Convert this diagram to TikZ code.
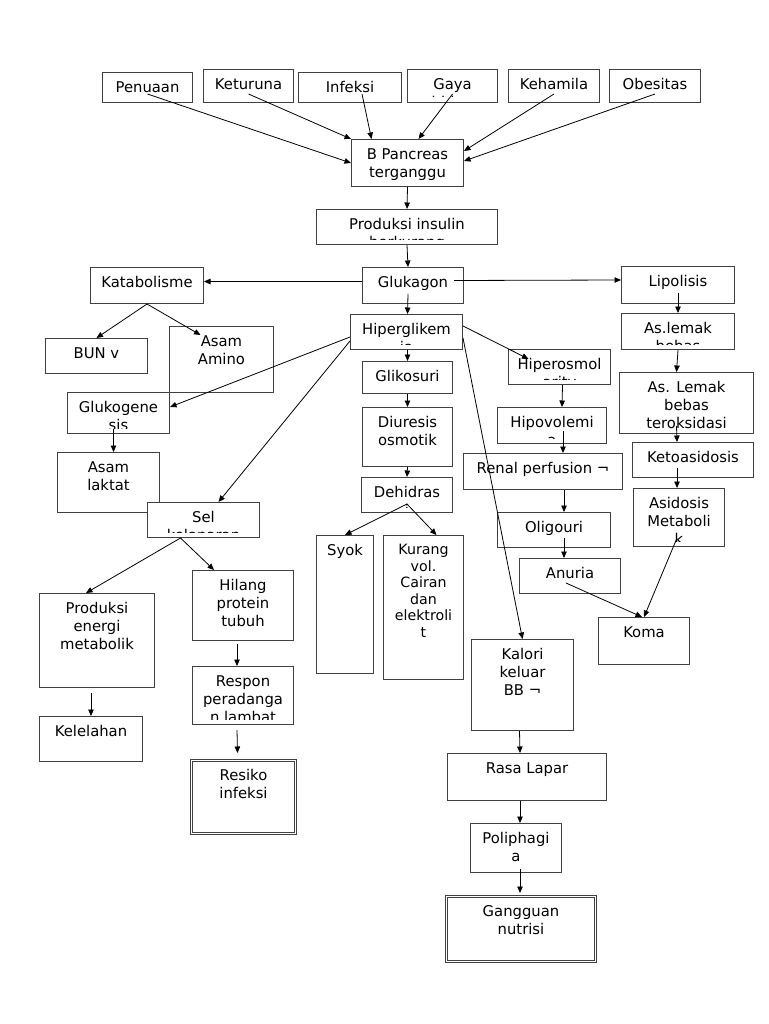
\documentclass[tikz,border=0pt]{standalone}
\usepackage{fontspec}
\setmainfont{DejaVu Sans}
\usetikzlibrary{arrows.meta}

\tikzset{
	box/.style={rectangle, draw=black!75, fill=white, line width=1pt, inner sep=0pt, anchor=north west},
	dbox/.style={box, double=white, double distance=1.6pt, line width=1pt},
	boxtext/.style={anchor=north, align=center, inner sep=0pt, minimum width=0pt, minimum height=0pt, draw=none, fill=none},
	txt/.style={path picture={
		\clip ([yshift=5.5pt]path picture bounding box.south west) rectangle (path picture bounding box.north east);
		\node[boxtext] at ([yshift=-8.5pt]path picture bounding box.north) {#1};}},
	conn/.style={->, line width=0.8pt, black},
}

\begin{document}
\begin{tikzpicture}[x=1pt, y=1pt, >={Triangle[length=6.5pt, width=5.5pt]}, font=\fontsize{14.8pt}{18pt}\selectfont]
		\useasboundingbox[fill=white] (0,0) rectangle (768,-1024);

		% cause boxes
		\node[box, minimum width=90pt, minimum height=30pt, txt={Penuaan}](penuaan) at (102,-72){};
		\node[box, minimum width=90pt, minimum height=33pt, txt={Keturuna}](keturuna) at (203,-69){};
		\node[box, minimum width=103pt, minimum height=30pt, txt={Infeksi}](infeksi) at (298,-72){};
		\node[box, minimum width=90pt, minimum height=33pt, txt={Gaya\\hidup}](gaya) at (407,-69){};
		\node[box, minimum width=91pt, minimum height=33pt, txt={Kehamila}](kehamila) at (508,-69){};
		\node[box, minimum width=91pt, minimum height=33pt, txt={Obesitas}](obesitas) at (609,-69){};

		% main boxes
		\node[box, minimum width=112pt, minimum height=47pt, txt={B Pancreas\\terganggu}](panc) at (351,-139){};
		\node[box, minimum width=181pt, minimum height=35pt, txt={Produksi insulin\\berkurang}](insulin) at (316,-209){};
		\node[box, minimum width=101pt, minimum height=36pt, txt={Glukagon}](glukagon) at (362,-267){};
		\node[box, minimum width=113pt, minimum height=36pt, txt={Katabolisme}](katabol) at (90,-267){};
		\node[box, minimum width=113pt, minimum height=37pt, txt={Lipolisis}](lipolisis) at (621,-266){};
		\node[box, minimum width=102pt, minimum height=35pt, txt={BUN v}](bun) at (45,-338){};
		\node[box, minimum width=104pt, minimum height=66pt, txt={Asam\\Amino}](amino) at (169,-326){};
		\node[box, minimum width=112pt, minimum height=35pt, txt={Hiperglikem\\ia}](hiper) at (350,-314){};
		\node[box, minimum width=90pt, minimum height=32pt, txt={Glikosuri}](glikosuri) at (362,-361){};
		\node[box, minimum width=102pt, minimum height=35pt, txt={Hiperosmol\\arity}](osmol) at (508,-349){};
		\node[box, minimum width=113pt, minimum height=36pt, txt={As.lemak\\bebas}](lemak) at (621,-313){};
		\node[box, minimum width=134pt, minimum height=61pt, txt={As. Lemak\\bebas\\teroksidasi}](oksid) at (619,-372){};
		\node[box, minimum width=102pt, minimum height=41pt, txt={Glukogene\\sis}](glukoneo) at (67,-392){};
		\node[box, minimum width=90pt, minimum height=59pt, txt={Diuresis\\osmotik}](diuresis) at (362,-407){};
		\node[box, minimum width=109pt, minimum height=36pt, txt={Hipovolemi\\a}](hipovol) at (497,-407){};
		\node[box, minimum width=121pt, minimum height=35pt, txt={Ketoasidosis}](keto) at (632,-442){};
		\node[box, minimum width=159pt, minimum height=36pt, txt={Renal perfusion ¬}](renal) at (463,-453){};
		\node[box, minimum width=102pt, minimum height=60pt, txt={Asam\\laktat}](laktat) at (57,-452){};
		\node[box, minimum width=91pt, minimum height=35pt, txt={Dehidras\\i}](dehidrasi) at (361,-477){};
		\node[box, minimum width=91pt, minimum height=58pt, txt={Asidosis\\Metaboli\\k}](asidosis) at (633,-488){};
		\node[box, minimum width=112pt, minimum height=35pt, txt={Sel\\kelaparan}](sel) at (147,-502){};
		\node[box, minimum width=113pt, minimum height=35pt, txt={Oligouri}](oligouri) at (497,-512){};
		\node[box, minimum width=57pt, minimum height=138pt, txt={Syok}](syok) at (316,-535){};
		\node[box, minimum width=80pt, minimum height=144pt, boxtext/.append style={font=\fontsize{14.2pt}{16.5pt}\selectfont}, txt={Kurang\\vol.\\Cairan\\dan\\elektroli\\t}](cairan) at (383,-535){};
		\node[box, minimum width=101pt, minimum height=35pt, txt={Anuria}](anuria) at (519,-558){};
		\node[box, minimum width=115pt, minimum height=94pt, txt={Produksi\\energi\\metabolik}](energi) at (39,-593){};
		\node[box, minimum width=101pt, minimum height=70pt, txt={Hilang\\protein\\tubuh}](protein) at (192,-570){};
		\node[box, minimum width=91pt, minimum height=47pt, txt={Koma}](koma) at (598,-617){};
		\node[box, minimum width=102pt, minimum height=91pt, txt={Kalori\\keluar\\BB ¬}](kalori) at (471,-639){};
		\node[box, minimum width=101pt, minimum height=58pt, txt={Respon\\peradanga\\n lambat}](respon) at (192,-666){};
		\node[box, minimum width=103pt, minimum height=45pt, txt={Kelelahan}](lelah) at (39,-716){};
		\node[box, minimum width=159pt, minimum height=47pt, txt={Rasa Lapar}](lapar) at (447,-753){};
		\node[dbox, minimum width=104pt, minimum height=73pt, txt={Resiko\\infeksi}](resiko) at (191,-760){};
		\node[box, minimum width=91pt, minimum height=49pt, txt={Poliphagi\\a}](poli) at (470,-823){};
		\node[dbox, minimum width=149pt, minimum height=65pt, txt={Gangguan\\nutrisi}](nutrisi) at (446,-896){};

		% draw cause edges
		\draw[conn] ([yshift=9pt]penuaan.south) -- (panc.west);
		\draw[conn] ([yshift=9pt]keturuna.south) -- (panc.north west);
		\draw[conn] ([xshift=12pt, yshift=9pt]infeksi.south) -- ([xshift=-36pt]panc.north);
		\draw[conn] ([yshift=9pt]gaya.south) -- ([xshift=11pt]panc.north);
		\draw[conn] ([yshift=9pt]kehamila.south) -- ([yshift=12pt]panc.east);
		\draw[conn] ([yshift=9pt]obesitas.south) -- ([yshift=2pt]panc.east);

		% draw main chain edges
		\draw[conn] (panc.south) -- (insulin.north);
		\draw[conn] (insulin.south) -- ([xshift=-5pt]glukagon.north);
		\draw[conn] ([xshift=-5pt, yshift=10pt]glukagon.south) -- ([xshift=1pt]hiper.north);
		\draw[conn] ([xshift=1pt]hiper.south) -- (glikosuri.north);
		\draw[conn] (glikosuri.south) -- (diuresis.north);
		\draw[conn] (diuresis.south) -- (dehidrasi.north);
		\draw[conn] ([yshift=4pt]glukagon.west) -- ([yshift=4pt]katabol.east);
		\draw[conn] ([xshift=-10pt, yshift=5pt]glukagon.east) -- ([yshift=5pt]lipolisis.west);

		% draw katabolisme edges
		\draw[conn] (katabol.south) -- (bun.north);
		\draw[conn] (katabol.south) -- ([xshift=-21pt, yshift=-9pt]amino.north);
		\draw[conn] ([xshift=-5pt, yshift=5pt]glukoneo.south) -- ([xshift=5pt]laktat.north);

		% draw hiperglikemia edges
		\draw[conn] ([yshift=-5pt]hiper.west) -- ([yshift=6pt]glukoneo.east);
		\draw[conn] ([yshift=-9pt]hiper.west) -- ([xshift=15pt]sel.north);
		\draw[conn] ([yshift=6pt]hiper.east) -- ([xshift=-31pt, yshift=-10pt]osmol.north);
		\draw[conn] ([yshift=-6pt]hiper.east) -- (kalori.north);
		\draw[conn] ([yshift=9pt]dehidrasi.south) -- (syok.north);
		\draw[conn] ([yshift=9pt]dehidrasi.south) -- ([xshift=13pt]cairan.north);

		% draw sel kelaparan edges
		\draw[conn] ([xshift=-23pt]sel.south) -- ([xshift=-11pt]energi.north);
		\draw[conn] ([xshift=-23pt]sel.south) -- ([xshift=-29pt]protein.north);
		\draw[conn] ([xshift=-6pt, yshift=-5pt]energi.south) -- (lelah.north);
		\draw[conn] ([xshift=-6pt, yshift=-3pt]protein.south) -- ([xshift=-6pt]respon.north);
		\draw[conn] ([xshift=-6pt, yshift=-5pt]respon.south) -- ([xshift=-6pt, yshift=7pt]resiko.north);

		% draw osmolarity edges
		\draw[conn] ([xshift=3pt]osmol.south) -- ([xshift=10pt]hipovol.north);
		\draw[conn] ([xshift=11pt, yshift=13pt]hipovol.south) -- ([xshift=20pt]renal.north);
		\draw[conn] ([xshift=21pt]renal.south) -- ([xshift=10pt]oligouri.north);
		\draw[conn] ([xshift=10pt, yshift=10pt]oligouri.south) -- ([xshift=-6pt]anuria.north);
		\draw[conn] ([xshift=-4pt, yshift=11pt]anuria.south) -- ([xshift=-2pt]koma.north);

		% draw lipolisis edges
		\draw[conn] ([yshift=11pt]lipolisis.south) -- (lemak.north);
		\draw[conn] (lemak.south) -- ([xshift=-10pt]oksid.north);
		\draw[conn] ([xshift=-10pt, yshift=8pt]oksid.south) -- ([xshift=-16pt]keto.north);
		\draw[conn] ([xshift=-16pt, yshift=10pt]keto.south) -- ([xshift=-2pt]asidosis.north);
		\draw[conn] ([xshift=-2pt, yshift=9pt]asidosis.south) -- (koma.north);

		% draw nutrisi edges
		\draw[conn] ([xshift=-3pt]kalori.south) -- ([xshift=-7pt]lapar.north);
		\draw[conn] ([xshift=-7pt]lapar.south) -- ([xshift=4pt]poli.north);
		\draw[conn] ([xshift=4pt, yshift=4pt]poli.south) -- ([xshift=-1pt, yshift=3pt]nutrisi.north);
	\end{tikzpicture}
\end{document}
